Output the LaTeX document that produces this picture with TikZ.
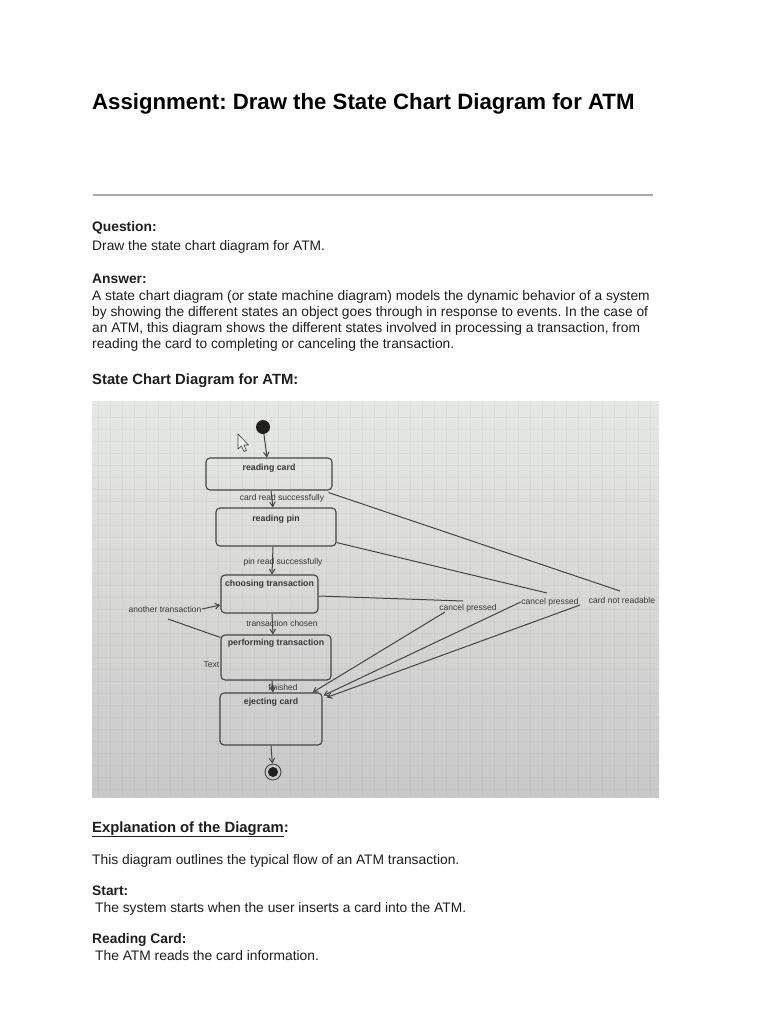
\documentclass[tikz,border=0pt]{standalone}
\usepackage{fontspec}
\setmainfont{Liberation Sans}
\usetikzlibrary{arrows.meta}
\frenchspacing
\definecolor{ink}{HTML}{1E1E1E}
\definecolor{dline}{HTML}{444444}
\definecolor{dtext}{HTML}{383838}
\definecolor{phototop}{HTML}{E6E8E4}
\definecolor{photobot}{HTML}{C8C8C8}
\definecolor{rulegray}{HTML}{A8A8A8}
\begin{document}
\begin{tikzpicture}[x=1pt,y=-1pt,
  body/.style={anchor=base west, inner sep=0, font=\fontsize{13.8}{16}\selectfont, text=ink},
  head/.style={anchor=base west, inner sep=0, font=\fontsize{13.8}{16}\selectfont\bfseries, text=ink},
  bighead/.style={anchor=base west, inner sep=0, font=\fontsize{14.8}{17}\selectfont\bfseries, text=ink},
  statebox/.style={draw=dline, line width=1.1pt, rounded corners=4pt, inner sep=0},
  stlab/.style={anchor=north, inner sep=0, font=\fontsize{8.8}{10}\selectfont\bfseries, text=dtext},
  trlab/.style={inner sep=0.5pt, font=\fontsize{8.5}{10}\selectfont, text=dtext},
  tr/.style={draw=dline, line width=1pt},
  arr/.style={tr, -{Straight Barb[length=4.5pt,width=5.5pt]}},
]
\useasboundingbox (0,0) rectangle (768,1024);
\fill[white] (0,0) rectangle (768,1024);

% ---------- page text ----------
\node[anchor=base west, inner sep=0, font=\fontsize{22.2}{26}\selectfont\bfseries, text=black] (title) at (92,110) {Assignment: Draw the State Chart Diagram for ATM};
\draw[rulegray, line width=1.6pt] (93,195) -- (653,195);
\node[head] (q) at (92,232) {Question:};
\node[body] (q1) at (92,250) {Draw the state chart diagram for ATM.};
\node[head] (a) at (92,283) {Answer:};
\node[body] (a1) at (92,300) {A state chart diagram (or state machine diagram) models the dynamic behavior of a system};
\node[body] (a2) at (92,316) {by showing the different states an object goes through in response to events. In the case of};
\node[body] (a3) at (92,332) {an ATM, this diagram shows the different states involved in processing a transaction, from};
\node[body] (a4) at (92,348) {reading the card to completing or canceling the transaction.};
\node[bighead] (sc) at (92,384) {State Chart Diagram for ATM:};

\node[bighead] (ex) at (92,832) {\underline{Explanation of the Diagram}:};
\node[body] (ex1) at (92,864) {This diagram outlines the typical flow of an ATM transaction.};
\node[head] (st) at (92,895) {Start:};
\node[body] (st1) at (95,912) {The system starts when the user inserts a card into the ATM.};
\node[head] (rd) at (92,943) {Reading Card:};
\node[body] (rd1) at (95,960) {The ATM reads the card information.};

% ---------- photo of the diagram ----------
\shade[top color=phototop, bottom color=photobot] (92,401) rectangle (659,797);
\foreach \gx in {98,110,...,656} \draw[black, opacity=0.03, line width=0.6pt] (\gx,401) -- (\gx,797);
\foreach \gy in {405,417,...,795} \draw[black, opacity=0.03, line width=0.6pt] (92,\gy) -- (659,\gy);

% mouse cursor seen in the photo
\draw[dline, line width=0.6pt, fill=white!88!gray, line join=round] (238,434) -- (238,449) -- (241.5,446) -- (244,451.5) -- (246.5,450.5) -- (244,445) -- (248.5,445) -- cycle;

% states
\node[circle, fill=black!88, minimum size=14pt, inner sep=0] (init) at (263,427) {};
\node[statebox, minimum width=126pt, minimum height=32pt] (rc) at (269,474) {};
\node[stlab] (rcl) at ([yshift=-6pt]rc.north) {reading card};
\node[statebox, minimum width=120pt, minimum height=38pt] (rp) at (276,527) {};
\node[stlab] (rpl) at ([yshift=-7pt]rp.north) {reading pin};
\node[statebox, minimum width=97pt, minimum height=38pt] (ct) at (269.5,594) {};
\node[stlab] (ctl) at ([yshift=-5pt]ct.north) {choosing transaction};
\node[statebox, minimum width=110pt, minimum height=45pt] (pt) at (276,657.5) {};
\node[stlab] (ptl) at ([yshift=-4pt]pt.north) {performing transaction};
\node[statebox, minimum width=102pt, minimum height=52pt] (ec) at (271,719) {};
\node[stlab] (ecl) at ([yshift=-5pt]ec.north) {ejecting card};
\node[circle, draw=dline, line width=0.9pt, minimum size=16pt, inner sep=0] (fin) at (273,772) {};
\fill[black!88] (fin.center) circle (5pt);

% main flow
\draw[arr] (init) -- ([xshift=-2pt]rc.north);
\draw[arr] ([xshift=2pt]rc.south) -- ([xshift=-3pt]rp.north);
\node[trlab] (l_crs) at (282,498) {card read successfully};
\draw[arr] ([xshift=-3pt]rp.south) -- ([xshift=2.5pt]ct.north);
\node[trlab] (l_prs) at (283,562) {pin read successfully};
\draw[arr] ([xshift=2.5pt]ct.south) -- ([xshift=-3pt]pt.north);
\node[trlab] (l_tc) at (282,623) {transaction chosen};
\draw[arr] ([xshift=-4pt]pt.south) -- ([xshift=2pt]ec.north);
\node[trlab] (l_fin) at (283,687) {finished};
\draw[arr] (ec.south) -- (fin);

% another transaction
\coordinate (bat) at (168,619);
\draw[tr] ([yshift=-3pt]pt.north west) -- (bat);
\node[trlab] (l_at) at (165,609) {another transaction};
\draw[arr] (l_at.east) -- ([yshift=-11pt]ct.west);
\node[trlab, anchor=east] (l_text) at (220,665) {Text};

% card not readable
\coordinate (bcnr) at (620,591);
\draw[tr] ([xshift=-4pt,yshift=-2pt]rc.south east) -- (bcnr);
\node[trlab] (l_cnr) at (622,600) {card not readable};
\draw[arr] (580,605) -- ([xshift=4pt,yshift=-5pt]ec.north east);

% cancel pressed (reading pin)
\coordinate (bcp2) at (547,593);
\draw[tr] ([yshift=4pt]rp.south east) -- (bcp2);
\node[trlab] (l_cp2) at (550,602) {cancel pressed};
\draw[arr] (l_cp2.west) -- ([xshift=1pt,yshift=-3pt]ec.north east);

% cancel pressed (choosing transaction)
\coordinate (bcp1) at (463,601);
\draw[tr] ([yshift=-2pt]ct.east) -- (bcp1);
\node[trlab] (l_cp1) at (468,608) {cancel pressed};
\draw[arr] (445,612) -- ([xshift=-10pt]ec.north east);
\end{tikzpicture}
\end{document}
